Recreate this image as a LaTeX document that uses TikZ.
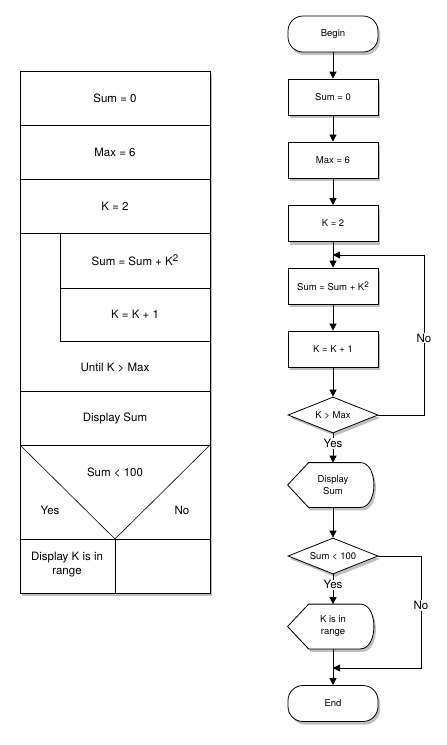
\documentclass[tikz,border=0pt]{standalone}
\usepackage{fontspec}
\setmainfont{TeX Gyre Heros}
\usetikzlibrary{shapes.geometric,arrows.meta,shadows}
\tikzstyle{nstext}=[font=\fontsize{11.5}{14}\selectfont,align=center]
\tikzstyle{fctext}=[font=\fontsize{9.5}{12}\selectfont,align=center]
\tikzstyle{shade}=[drop shadow={opacity=0.5,shadow xshift=2pt,shadow yshift=-3pt}]
\tikzstyle{stepbox}=[rectangle,draw=black,fill=white,fctext,shade,
                     minimum width=90pt,minimum height=36pt,inner sep=0pt]
\tikzstyle{termbox}=[stepbox,rounded corners=15pt]
\tikzstyle{testbox}=[diamond,draw=black,fill=white,fctext,shade,aspect=2.5,
                     minimum width=90pt,minimum height=36pt,inner sep=0pt]
\tikzstyle{showbox}=[rectangle,fctext,minimum width=90pt,minimum height=44pt,inner sep=0pt]
\tikzstyle{flow}=[-{Triangle[length=7pt,width=7pt]}]
\tikzstyle{label}=[font=\fontsize{11.5}{14}\selectfont,fill=white,inner sep=1pt]
\newcommand{\sq}{\raisebox{0.55ex}{\scalebox{0.85}{2}}}
\newcommand{\showshape}[1]{%
  \draw[fill=white,shade] (#1.west) -- ([xshift=21pt]#1.north west)
    -- ([xshift=-18pt]#1.north east)
    .. controls (#1.north east) and (#1.south east) .. ([xshift=-18pt]#1.south east)
    -- ([xshift=21pt]#1.south west) -- cycle;}

\begin{document}
\begin{tikzpicture}[x=1pt,y=-1pt,line width=0.8pt]
  \useasboundingbox (0,0) rectangle (447,745);
  % structure chart
  \draw[fill=white,shade] (20,71) rectangle (210,593);
  \draw (20,125) -- (210,125) (20,179) -- (210,179) (20,233) -- (210,233);
  \draw (60,233) -- (60,341) -- (210,341) (60,288) -- (210,288);
  \draw (20,391) -- (210,391) (20,445) -- (210,445) (20,539) -- (210,539);
  \draw[line width=0.6pt] (20,445) -- (115,539) -- (210,445);
  \draw (115,539) -- (115,593);
  \node (n1) at (115,98) [nstext]{Sum = 0};
  \node (n2) at (115,152) [nstext]{Max = 6};
  \node (n3) at (115,206) [nstext]{K = 2};
  \node (n4) at (135,260) [nstext]{Sum = Sum + K\sq};
  \node (n5) at (135,314) [nstext]{K = K + 1};
  \node (n6) at (115,368) [nstext]{Until K > Max};
  \node (n7) at (115,418) [nstext]{Display Sum};
  \node (n8) at (115,473) [nstext]{Sum < 100};
  \node (n9) at (50,510) [nstext]{Yes};
  \node (n10) at (182,510) [nstext]{No};
  \node (n11) at (67,565) [nstext]{Display K is in\\range};
  % flowchart
  \node (begin) at (333,34) [termbox]{Begin};
  \node (sum) at (333,97) [stepbox]{Sum = 0};
  \node (max) at (333,160) [stepbox]{Max = 6};
  \node (k) at (333,223.5) [stepbox]{K = 2};
  \node (add) at (333,286) [stepbox]{Sum = Sum + K\sq};
  \node (inc) at (333,349) [stepbox]{K = K + 1};
  \node (test) at (333,415) [testbox]{K > Max};
  \node (show) at (333,485) [showbox]{};
  \showshape{show}
  \node (showtxt) at (333,485) [fctext]{Display\\Sum};
  \node (cond) at (333,556) [testbox]{Sum < 100};
  \node (range) at (333,626.5) [showbox]{};
  \showshape{range}
  \node (rangetxt) at (333,626.5) [fctext]{K is in\\range};
  \node (end) at (333,703.5) [termbox]{End};
  \coordinate (loop) at (333,255);
  \coordinate (join) at (333,668);
  \draw[flow] (begin) -- (sum);
  \draw[flow] (sum) -- (max);
  \draw[flow] (max) -- (k);
  \draw[flow] (k) -- (add);
  \draw[flow] (add) -- (inc);
  \draw[flow] (inc) -- (test);
  \draw[flow] (test) -- node[label,pos=0.35]{Yes} (show);
  \draw[flow] (show) -- (cond);
  \draw[flow] (cond) -- node[label,pos=0.35]{Yes} (range);
  \draw[flow] (range) -- (end);
  \draw[flow] (test.east) -| node[label,pos=0.74]{No} (424,255) -- (loop);
  \draw[flow] (cond.east) -| node[label,pos=0.72]{No} (421,668) -- (join);
\end{tikzpicture}
\end{document}
